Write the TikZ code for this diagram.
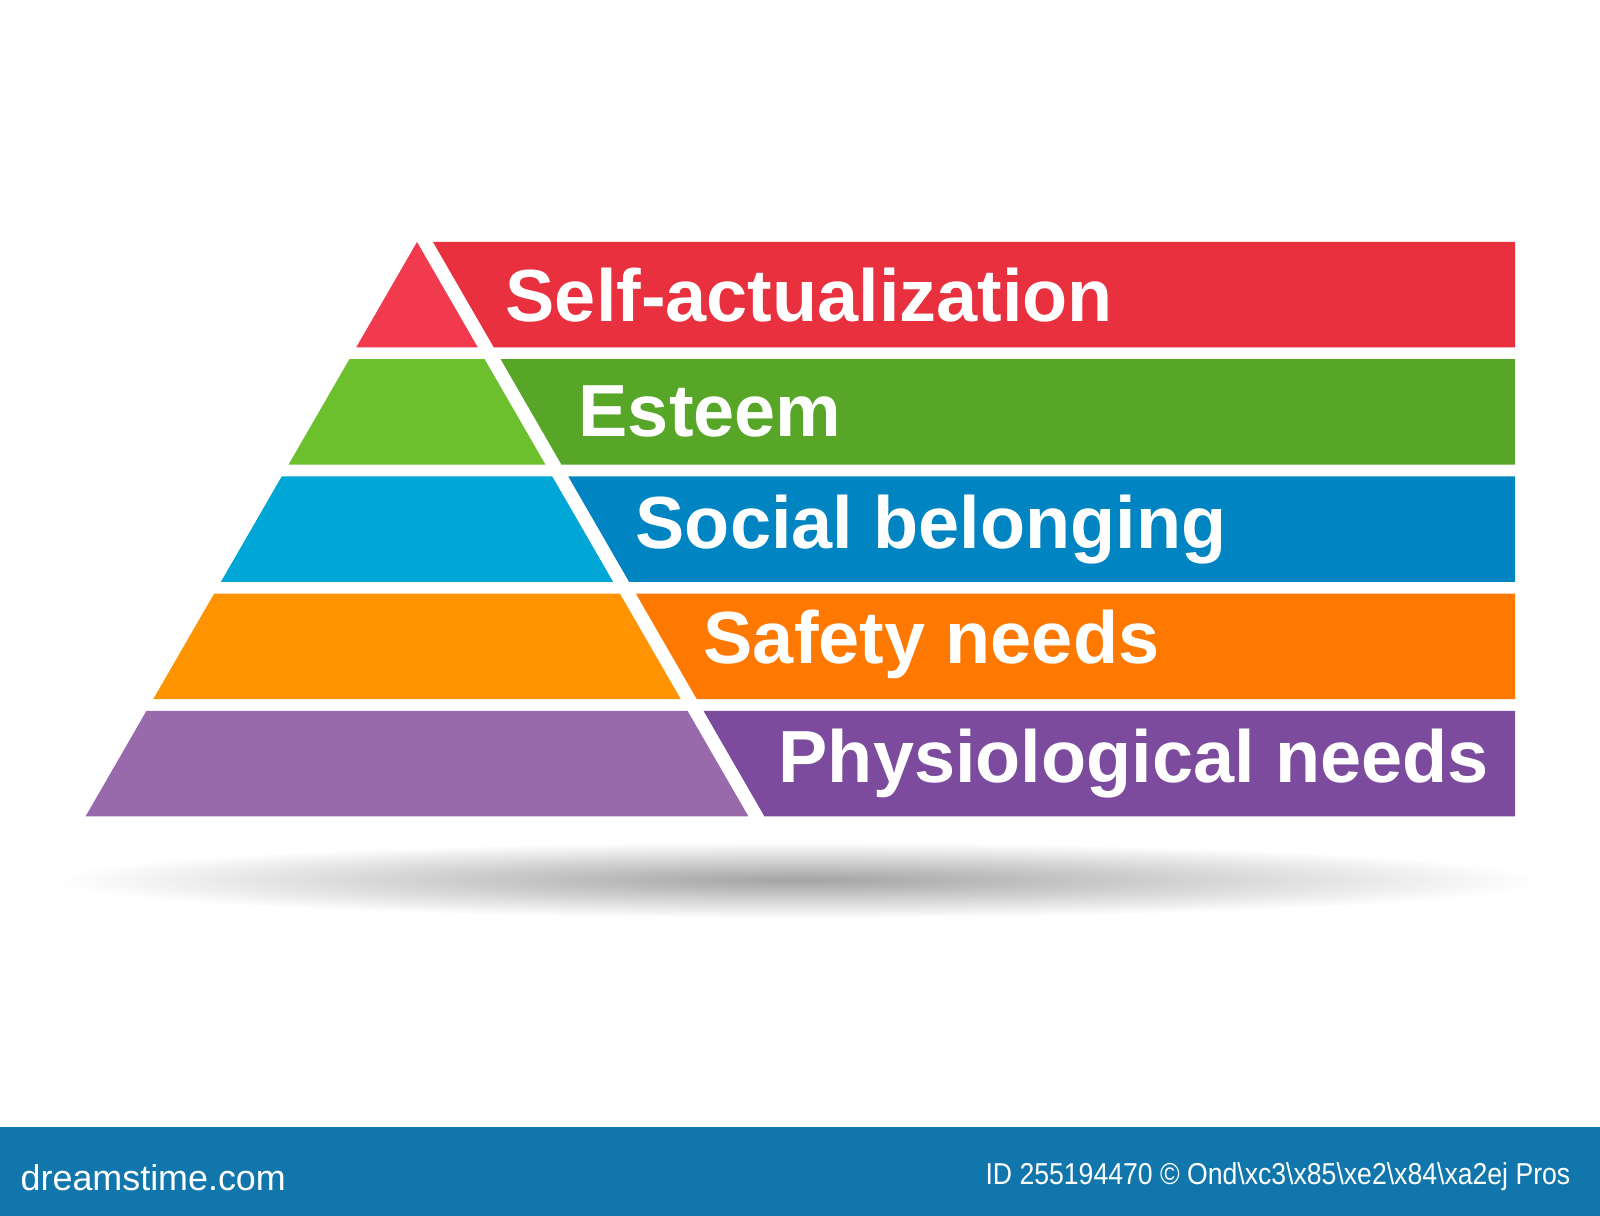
\documentclass[tikz,border=0pt]{standalone}
\usepackage{fontspec}
\setmainfont{Liberation Sans}
\usepackage{graphicx}

\definecolor{redL}{HTML}{F23A4E}
\definecolor{redR}{HTML}{E8303F}
\definecolor{greenL}{HTML}{6CC02D}
\definecolor{greenR}{HTML}{57A628}
\definecolor{blueL}{HTML}{00A6D6}
\definecolor{blueR}{HTML}{0085C2}
\definecolor{orangeL}{HTML}{FF9400}
\definecolor{orangeR}{HTML}{FF7800}
\definecolor{purpleL}{HTML}{986AAC}
\definecolor{purpleR}{HTML}{7D4B9E}
\definecolor{banner}{HTML}{1076AC}

\tikzset{
  tierlabel/.style={anchor=base west,text=white,inner sep=0,
    font=\fontsize{21}{25}\selectfont\bfseries},
  bannertext/.style={text=white,inner sep=0},
}

\begin{document}
\begin{tikzpicture}[x=0.01cm,y=-0.01cm]

  \useasboundingbox (0,0) rectangle (1600,1216);
  \fill[white] (0,0) rectangle (1600,1216);

  % Shadow
  \shade[inner color=black!36,outer color=white] (798,880) ellipse (745 and 38);

  % Pyramid tiers
  \def\apex{417}\def\gap{16}\def\slope{0.577}
  \foreach \lbl/\cl/\cr/\tx/\ty [count=\i] in {%
      Self-actualization/redL/redR/505/322,
      Esteem/greenL/greenR/578/437,
      Social belonging/blueL/blueR/635/549,
      Safety needs/orangeL/orangeR/703/664,
      Physiological needs/purpleL/purpleR/778/782}{%
    \pgfmathsetmacro\ytop{242+117.2*(\i-1)}
    \pgfmathsetmacro\ybot{\ytop+105.5}
    \pgfmathsetmacro\dt{\slope*(\ytop-242)}
    \pgfmathsetmacro\db{\slope*(\ybot-242)}
    \fill[\cl] (\apex-\dt,\ytop) -- (\apex+\dt,\ytop) -- (\apex+\db,\ybot) -- (\apex-\db,\ybot) -- cycle;
    \fill[\cr] (\apex+\gap+\dt,\ytop) -- (1515,\ytop) -- (1515,\ybot) -- (\apex+\gap+\db,\ybot) -- cycle;
    \node[tierlabel] (tier\i) at (\tx,\ty) {\lbl};
  }

  % Banner
  \fill[banner] (0,1127) rectangle (1600,1216);
  \node[bannertext,anchor=base west,font=\fontsize{10.2}{12}\selectfont] (brand) at (20,1190) {dreamstime.com};
  \node[bannertext,anchor=base east,font=\fontsize{8.6}{10}\selectfont] (credit) at (1571,1184)
    {\scalebox{0.88}[1]{ID 255194470 © Ond\textbackslash xc3\textbackslash x85\textbackslash xe2\textbackslash x84\textbackslash xa2ej Pros}};

\end{tikzpicture}
\end{document}
